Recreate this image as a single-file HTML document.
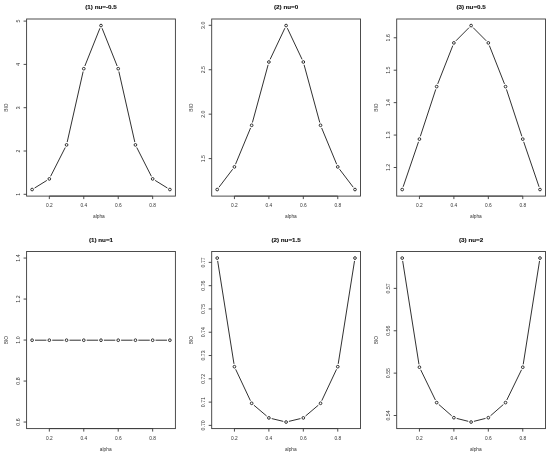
<!DOCTYPE html><html><head><meta charset="utf-8"><style>html,body{margin:0;padding:0;background:#fff;}svg{display:block;}text{font-family:"Liberation Sans",Arial,sans-serif;}</style></head><body>
<svg width="550" height="456" viewBox="0 0 550 456">
<rect x="0" y="0" width="550" height="456" fill="#fff"/>
<g><rect x="26.60" y="19.00" width="148.80" height="177.10" fill="none" stroke="#3a3a3a" stroke-width="0.9"/><line x1="49.33" y1="196.10" x2="152.67" y2="196.10" stroke="#3a3a3a" stroke-width="0.9"/><line x1="49.33" y1="196.10" x2="49.33" y2="199.10" stroke="#3a3a3a" stroke-width="0.9"/><text x="49.33" y="206.70" font-size="4.8" text-anchor="middle" fill="#333">0.2</text><line x1="83.78" y1="196.10" x2="83.78" y2="199.10" stroke="#3a3a3a" stroke-width="0.9"/><text x="83.78" y="206.70" font-size="4.8" text-anchor="middle" fill="#333">0.4</text><line x1="118.22" y1="196.10" x2="118.22" y2="199.10" stroke="#3a3a3a" stroke-width="0.9"/><text x="118.22" y="206.70" font-size="4.8" text-anchor="middle" fill="#333">0.6</text><line x1="152.67" y1="196.10" x2="152.67" y2="199.10" stroke="#3a3a3a" stroke-width="0.9"/><text x="152.67" y="206.70" font-size="4.8" text-anchor="middle" fill="#333">0.8</text><line x1="23.60" y1="194.30" x2="26.60" y2="194.30" stroke="#3a3a3a" stroke-width="0.9"/><text transform="translate(19.70,194.30) rotate(-90) scale(1.08,1)" font-size="4.8" text-anchor="middle" fill="#333">1</text><line x1="23.60" y1="151.00" x2="26.60" y2="151.00" stroke="#3a3a3a" stroke-width="0.9"/><text transform="translate(19.70,151.00) rotate(-90) scale(1.08,1)" font-size="4.8" text-anchor="middle" fill="#333">2</text><line x1="23.60" y1="107.70" x2="26.60" y2="107.70" stroke="#3a3a3a" stroke-width="0.9"/><text transform="translate(19.70,107.70) rotate(-90) scale(1.08,1)" font-size="4.8" text-anchor="middle" fill="#333">3</text><line x1="23.60" y1="64.40" x2="26.60" y2="64.40" stroke="#3a3a3a" stroke-width="0.9"/><text transform="translate(19.70,64.40) rotate(-90) scale(1.08,1)" font-size="4.8" text-anchor="middle" fill="#333">4</text><line x1="23.60" y1="21.10" x2="26.60" y2="21.10" stroke="#3a3a3a" stroke-width="0.9"/><text transform="translate(19.70,21.10) rotate(-90) scale(1.08,1)" font-size="4.8" text-anchor="middle" fill="#333">5</text><text x="98.90" y="218.20" font-size="4.8" text-anchor="middle" fill="#333">alpha</text><text transform="translate(7.90,107.55) rotate(-90)" font-size="4.8" text-anchor="middle" fill="#333">BIO</text><text transform="translate(101.00,9.30) scale(1.1,1)" font-size="5.7" font-weight="bold" text-anchor="middle" fill="#111" stroke="#111" stroke-width="0.12">(1) nu=-0.5</text><path d="M34.58 188.02L46.87 180.42M50.64 176.31L65.25 147.49M67.19 142.07L83.14 71.53M84.85 66.01L99.92 28.25M102.08 28.25L117.15 66.01M118.86 71.53L134.81 142.07M136.75 147.49L151.36 176.31M155.13 180.42L167.42 188.02" fill="none" stroke="#262626" stroke-width="0.95"/><circle cx="32.11" cy="189.54" r="1.35" fill="none" stroke="#1a1a1a" stroke-width="0.9"/><circle cx="49.33" cy="178.90" r="1.35" fill="none" stroke="#1a1a1a" stroke-width="0.9"/><circle cx="66.56" cy="144.90" r="1.35" fill="none" stroke="#1a1a1a" stroke-width="0.9"/><circle cx="83.78" cy="68.70" r="1.35" fill="none" stroke="#1a1a1a" stroke-width="0.9"/><circle cx="101.00" cy="25.56" r="1.35" fill="none" stroke="#1a1a1a" stroke-width="0.9"/><circle cx="118.22" cy="68.70" r="1.35" fill="none" stroke="#1a1a1a" stroke-width="0.9"/><circle cx="135.44" cy="144.90" r="1.35" fill="none" stroke="#1a1a1a" stroke-width="0.9"/><circle cx="152.67" cy="178.90" r="1.35" fill="none" stroke="#1a1a1a" stroke-width="0.9"/><circle cx="169.89" cy="189.54" r="1.35" fill="none" stroke="#1a1a1a" stroke-width="0.9"/></g>
<g><rect x="211.70" y="19.00" width="148.80" height="177.10" fill="none" stroke="#3a3a3a" stroke-width="0.9"/><line x1="234.43" y1="196.10" x2="337.77" y2="196.10" stroke="#3a3a3a" stroke-width="0.9"/><line x1="234.43" y1="196.10" x2="234.43" y2="199.10" stroke="#3a3a3a" stroke-width="0.9"/><text x="234.43" y="206.70" font-size="4.8" text-anchor="middle" fill="#333">0.2</text><line x1="268.88" y1="196.10" x2="268.88" y2="199.10" stroke="#3a3a3a" stroke-width="0.9"/><text x="268.88" y="206.70" font-size="4.8" text-anchor="middle" fill="#333">0.4</text><line x1="303.32" y1="196.10" x2="303.32" y2="199.10" stroke="#3a3a3a" stroke-width="0.9"/><text x="303.32" y="206.70" font-size="4.8" text-anchor="middle" fill="#333">0.6</text><line x1="337.77" y1="196.10" x2="337.77" y2="199.10" stroke="#3a3a3a" stroke-width="0.9"/><text x="337.77" y="206.70" font-size="4.8" text-anchor="middle" fill="#333">0.8</text><line x1="208.70" y1="158.60" x2="211.70" y2="158.60" stroke="#3a3a3a" stroke-width="0.9"/><text transform="translate(204.80,158.60) rotate(-90) scale(1.08,1)" font-size="4.8" text-anchor="middle" fill="#333">1.5</text><line x1="208.70" y1="114.17" x2="211.70" y2="114.17" stroke="#3a3a3a" stroke-width="0.9"/><text transform="translate(204.80,114.17) rotate(-90) scale(1.08,1)" font-size="4.8" text-anchor="middle" fill="#333">2.0</text><line x1="208.70" y1="69.74" x2="211.70" y2="69.74" stroke="#3a3a3a" stroke-width="0.9"/><text transform="translate(204.80,69.74) rotate(-90) scale(1.08,1)" font-size="4.8" text-anchor="middle" fill="#333">2.5</text><line x1="208.70" y1="25.31" x2="211.70" y2="25.31" stroke="#3a3a3a" stroke-width="0.9"/><text transform="translate(204.80,25.31) rotate(-90) scale(1.08,1)" font-size="4.8" text-anchor="middle" fill="#333">3.0</text><text x="290.90" y="218.20" font-size="4.8" text-anchor="middle" fill="#333">alpha</text><text transform="translate(193.00,107.55) rotate(-90)" font-size="4.8" text-anchor="middle" fill="#333">BIO</text><text transform="translate(286.10,9.30) scale(1.1,1)" font-size="5.7" font-weight="bold" text-anchor="middle" fill="#111" stroke="#111" stroke-width="0.12">(2) nu=0</text><path d="M218.97 187.23L232.68 169.21M235.54 164.22L250.55 127.98M252.42 122.50L268.12 64.80M270.12 59.38L284.86 28.18M287.34 28.18L302.08 59.38M304.08 64.80L319.78 122.50M321.65 127.98L336.66 164.22M339.52 169.21L353.23 187.23" fill="none" stroke="#262626" stroke-width="0.95"/><circle cx="217.21" cy="189.54" r="1.35" fill="none" stroke="#1a1a1a" stroke-width="0.9"/><circle cx="234.43" cy="166.90" r="1.35" fill="none" stroke="#1a1a1a" stroke-width="0.9"/><circle cx="251.66" cy="125.30" r="1.35" fill="none" stroke="#1a1a1a" stroke-width="0.9"/><circle cx="268.88" cy="62.00" r="1.35" fill="none" stroke="#1a1a1a" stroke-width="0.9"/><circle cx="286.10" cy="25.56" r="1.35" fill="none" stroke="#1a1a1a" stroke-width="0.9"/><circle cx="303.32" cy="62.00" r="1.35" fill="none" stroke="#1a1a1a" stroke-width="0.9"/><circle cx="320.54" cy="125.30" r="1.35" fill="none" stroke="#1a1a1a" stroke-width="0.9"/><circle cx="337.77" cy="166.90" r="1.35" fill="none" stroke="#1a1a1a" stroke-width="0.9"/><circle cx="354.99" cy="189.54" r="1.35" fill="none" stroke="#1a1a1a" stroke-width="0.9"/></g>
<g><rect x="396.70" y="19.00" width="148.80" height="177.10" fill="none" stroke="#3a3a3a" stroke-width="0.9"/><line x1="419.43" y1="196.10" x2="522.77" y2="196.10" stroke="#3a3a3a" stroke-width="0.9"/><line x1="419.43" y1="196.10" x2="419.43" y2="199.10" stroke="#3a3a3a" stroke-width="0.9"/><text x="419.43" y="206.70" font-size="4.8" text-anchor="middle" fill="#333">0.2</text><line x1="453.88" y1="196.10" x2="453.88" y2="199.10" stroke="#3a3a3a" stroke-width="0.9"/><text x="453.88" y="206.70" font-size="4.8" text-anchor="middle" fill="#333">0.4</text><line x1="488.32" y1="196.10" x2="488.32" y2="199.10" stroke="#3a3a3a" stroke-width="0.9"/><text x="488.32" y="206.70" font-size="4.8" text-anchor="middle" fill="#333">0.6</text><line x1="522.77" y1="196.10" x2="522.77" y2="199.10" stroke="#3a3a3a" stroke-width="0.9"/><text x="522.77" y="206.70" font-size="4.8" text-anchor="middle" fill="#333">0.8</text><line x1="393.70" y1="167.50" x2="396.70" y2="167.50" stroke="#3a3a3a" stroke-width="0.9"/><text transform="translate(389.80,167.50) rotate(-90) scale(1.08,1)" font-size="4.8" text-anchor="middle" fill="#333">1.2</text><line x1="393.70" y1="135.07" x2="396.70" y2="135.07" stroke="#3a3a3a" stroke-width="0.9"/><text transform="translate(389.80,135.07) rotate(-90) scale(1.08,1)" font-size="4.8" text-anchor="middle" fill="#333">1.3</text><line x1="393.70" y1="102.64" x2="396.70" y2="102.64" stroke="#3a3a3a" stroke-width="0.9"/><text transform="translate(389.80,102.64) rotate(-90) scale(1.08,1)" font-size="4.8" text-anchor="middle" fill="#333">1.4</text><line x1="393.70" y1="70.21" x2="396.70" y2="70.21" stroke="#3a3a3a" stroke-width="0.9"/><text transform="translate(389.80,70.21) rotate(-90) scale(1.08,1)" font-size="4.8" text-anchor="middle" fill="#333">1.5</text><line x1="393.70" y1="37.78" x2="396.70" y2="37.78" stroke="#3a3a3a" stroke-width="0.9"/><text transform="translate(389.80,37.78) rotate(-90) scale(1.08,1)" font-size="4.8" text-anchor="middle" fill="#333">1.6</text><text x="475.90" y="218.20" font-size="4.8" text-anchor="middle" fill="#333">alpha</text><text transform="translate(378.00,107.55) rotate(-90)" font-size="4.8" text-anchor="middle" fill="#333">BIO</text><text transform="translate(471.10,9.30) scale(1.1,1)" font-size="5.7" font-weight="bold" text-anchor="middle" fill="#111" stroke="#111" stroke-width="0.12">(3) nu=0.5</text><path d="M403.15 186.80L418.50 141.84M420.34 136.34L435.75 89.36M437.72 83.90L452.81 45.60M455.92 40.84L469.06 27.62M473.14 27.62L486.28 40.84M489.39 45.60L504.48 83.90M506.45 89.36L521.86 136.34M523.70 141.84L539.05 186.80" fill="none" stroke="#262626" stroke-width="0.95"/><circle cx="402.21" cy="189.54" r="1.35" fill="none" stroke="#1a1a1a" stroke-width="0.9"/><circle cx="419.43" cy="139.10" r="1.35" fill="none" stroke="#1a1a1a" stroke-width="0.9"/><circle cx="436.66" cy="86.60" r="1.35" fill="none" stroke="#1a1a1a" stroke-width="0.9"/><circle cx="453.88" cy="42.90" r="1.35" fill="none" stroke="#1a1a1a" stroke-width="0.9"/><circle cx="471.10" cy="25.56" r="1.35" fill="none" stroke="#1a1a1a" stroke-width="0.9"/><circle cx="488.32" cy="42.90" r="1.35" fill="none" stroke="#1a1a1a" stroke-width="0.9"/><circle cx="505.54" cy="86.60" r="1.35" fill="none" stroke="#1a1a1a" stroke-width="0.9"/><circle cx="522.77" cy="139.10" r="1.35" fill="none" stroke="#1a1a1a" stroke-width="0.9"/><circle cx="539.99" cy="189.54" r="1.35" fill="none" stroke="#1a1a1a" stroke-width="0.9"/></g>
<g><rect x="26.60" y="251.50" width="148.80" height="177.10" fill="none" stroke="#3a3a3a" stroke-width="0.9"/><line x1="49.33" y1="428.60" x2="152.67" y2="428.60" stroke="#3a3a3a" stroke-width="0.9"/><line x1="49.33" y1="428.60" x2="49.33" y2="431.60" stroke="#3a3a3a" stroke-width="0.9"/><text x="49.33" y="439.60" font-size="4.8" text-anchor="middle" fill="#333">0.2</text><line x1="83.78" y1="428.60" x2="83.78" y2="431.60" stroke="#3a3a3a" stroke-width="0.9"/><text x="83.78" y="439.60" font-size="4.8" text-anchor="middle" fill="#333">0.4</text><line x1="118.22" y1="428.60" x2="118.22" y2="431.60" stroke="#3a3a3a" stroke-width="0.9"/><text x="118.22" y="439.60" font-size="4.8" text-anchor="middle" fill="#333">0.6</text><line x1="152.67" y1="428.60" x2="152.67" y2="431.60" stroke="#3a3a3a" stroke-width="0.9"/><text x="152.67" y="439.60" font-size="4.8" text-anchor="middle" fill="#333">0.8</text><line x1="23.60" y1="422.04" x2="26.60" y2="422.04" stroke="#3a3a3a" stroke-width="0.9"/><text transform="translate(19.70,422.04) rotate(-90) scale(1.08,1)" font-size="4.8" text-anchor="middle" fill="#333">0.6</text><line x1="23.60" y1="381.05" x2="26.60" y2="381.05" stroke="#3a3a3a" stroke-width="0.9"/><text transform="translate(19.70,381.05) rotate(-90) scale(1.08,1)" font-size="4.8" text-anchor="middle" fill="#333">0.8</text><line x1="23.60" y1="340.05" x2="26.60" y2="340.05" stroke="#3a3a3a" stroke-width="0.9"/><text transform="translate(19.70,340.05) rotate(-90) scale(1.08,1)" font-size="4.8" text-anchor="middle" fill="#333">1.0</text><line x1="23.60" y1="299.05" x2="26.60" y2="299.05" stroke="#3a3a3a" stroke-width="0.9"/><text transform="translate(19.70,299.05) rotate(-90) scale(1.08,1)" font-size="4.8" text-anchor="middle" fill="#333">1.2</text><line x1="23.60" y1="258.06" x2="26.60" y2="258.06" stroke="#3a3a3a" stroke-width="0.9"/><text transform="translate(19.70,258.06) rotate(-90) scale(1.08,1)" font-size="4.8" text-anchor="middle" fill="#333">1.4</text><text x="105.70" y="450.70" font-size="4.8" text-anchor="middle" fill="#333">alpha</text><text transform="translate(7.90,340.05) rotate(-90)" font-size="4.8" text-anchor="middle" fill="#333">BIO</text><text transform="translate(101.00,241.80) scale(1.1,1)" font-size="5.7" font-weight="bold" text-anchor="middle" fill="#111" stroke="#111" stroke-width="0.12">(1) nu=1</text><path d="M35.01 340.20L46.43 340.20M52.23 340.20L63.66 340.20M69.46 340.20L80.88 340.20M86.68 340.20L98.10 340.20M103.90 340.20L115.32 340.20M121.12 340.20L132.54 340.20M138.34 340.20L149.77 340.20M155.57 340.20L166.99 340.20" fill="none" stroke="#262626" stroke-width="0.95"/><circle cx="32.11" cy="340.20" r="1.35" fill="none" stroke="#1a1a1a" stroke-width="0.9"/><circle cx="49.33" cy="340.20" r="1.35" fill="none" stroke="#1a1a1a" stroke-width="0.9"/><circle cx="66.56" cy="340.20" r="1.35" fill="none" stroke="#1a1a1a" stroke-width="0.9"/><circle cx="83.78" cy="340.20" r="1.35" fill="none" stroke="#1a1a1a" stroke-width="0.9"/><circle cx="101.00" cy="340.20" r="1.35" fill="none" stroke="#1a1a1a" stroke-width="0.9"/><circle cx="118.22" cy="340.20" r="1.35" fill="none" stroke="#1a1a1a" stroke-width="0.9"/><circle cx="135.44" cy="340.20" r="1.35" fill="none" stroke="#1a1a1a" stroke-width="0.9"/><circle cx="152.67" cy="340.20" r="1.35" fill="none" stroke="#1a1a1a" stroke-width="0.9"/><circle cx="169.89" cy="340.20" r="1.35" fill="none" stroke="#1a1a1a" stroke-width="0.9"/></g>
<g><rect x="211.70" y="251.50" width="148.80" height="177.10" fill="none" stroke="#3a3a3a" stroke-width="0.9"/><line x1="234.43" y1="428.60" x2="337.77" y2="428.60" stroke="#3a3a3a" stroke-width="0.9"/><line x1="234.43" y1="428.60" x2="234.43" y2="431.60" stroke="#3a3a3a" stroke-width="0.9"/><text x="234.43" y="439.60" font-size="4.8" text-anchor="middle" fill="#333">0.2</text><line x1="268.88" y1="428.60" x2="268.88" y2="431.60" stroke="#3a3a3a" stroke-width="0.9"/><text x="268.88" y="439.60" font-size="4.8" text-anchor="middle" fill="#333">0.4</text><line x1="303.32" y1="428.60" x2="303.32" y2="431.60" stroke="#3a3a3a" stroke-width="0.9"/><text x="303.32" y="439.60" font-size="4.8" text-anchor="middle" fill="#333">0.6</text><line x1="337.77" y1="428.60" x2="337.77" y2="431.60" stroke="#3a3a3a" stroke-width="0.9"/><text x="337.77" y="439.60" font-size="4.8" text-anchor="middle" fill="#333">0.8</text><line x1="208.70" y1="425.40" x2="211.70" y2="425.40" stroke="#3a3a3a" stroke-width="0.9"/><text transform="translate(204.80,425.40) rotate(-90) scale(1.08,1)" font-size="4.8" text-anchor="middle" fill="#333">0.70</text><line x1="208.70" y1="402.11" x2="211.70" y2="402.11" stroke="#3a3a3a" stroke-width="0.9"/><text transform="translate(204.80,402.11) rotate(-90) scale(1.08,1)" font-size="4.8" text-anchor="middle" fill="#333">0.71</text><line x1="208.70" y1="378.82" x2="211.70" y2="378.82" stroke="#3a3a3a" stroke-width="0.9"/><text transform="translate(204.80,378.82) rotate(-90) scale(1.08,1)" font-size="4.8" text-anchor="middle" fill="#333">0.72</text><line x1="208.70" y1="355.53" x2="211.70" y2="355.53" stroke="#3a3a3a" stroke-width="0.9"/><text transform="translate(204.80,355.53) rotate(-90) scale(1.08,1)" font-size="4.8" text-anchor="middle" fill="#333">0.73</text><line x1="208.70" y1="332.24" x2="211.70" y2="332.24" stroke="#3a3a3a" stroke-width="0.9"/><text transform="translate(204.80,332.24) rotate(-90) scale(1.08,1)" font-size="4.8" text-anchor="middle" fill="#333">0.74</text><line x1="208.70" y1="308.95" x2="211.70" y2="308.95" stroke="#3a3a3a" stroke-width="0.9"/><text transform="translate(204.80,308.95) rotate(-90) scale(1.08,1)" font-size="4.8" text-anchor="middle" fill="#333">0.75</text><line x1="208.70" y1="285.66" x2="211.70" y2="285.66" stroke="#3a3a3a" stroke-width="0.9"/><text transform="translate(204.80,285.66) rotate(-90) scale(1.08,1)" font-size="4.8" text-anchor="middle" fill="#333">0.76</text><line x1="208.70" y1="262.37" x2="211.70" y2="262.37" stroke="#3a3a3a" stroke-width="0.9"/><text transform="translate(204.80,262.37) rotate(-90) scale(1.08,1)" font-size="4.8" text-anchor="middle" fill="#333">0.77</text><text x="290.80" y="450.70" font-size="4.8" text-anchor="middle" fill="#333">alpha</text><text transform="translate(193.00,340.05) rotate(-90)" font-size="4.8" text-anchor="middle" fill="#333">BIO</text><text transform="translate(286.10,241.80) scale(1.1,1)" font-size="5.7" font-weight="bold" text-anchor="middle" fill="#111" stroke="#111" stroke-width="0.12">(2) nu=1.5</text><path d="M217.67 260.92L233.98 363.84M235.67 369.32L250.42 400.68M253.87 405.18L266.67 416.02M271.70 418.58L283.28 421.36M288.92 421.36L300.50 418.58M305.53 416.02L318.33 405.18M321.78 400.68L336.53 369.32M338.22 363.84L354.53 260.92" fill="none" stroke="#262626" stroke-width="0.95"/><circle cx="217.21" cy="258.06" r="1.35" fill="none" stroke="#1a1a1a" stroke-width="0.9"/><circle cx="234.43" cy="366.70" r="1.35" fill="none" stroke="#1a1a1a" stroke-width="0.9"/><circle cx="251.66" cy="403.30" r="1.35" fill="none" stroke="#1a1a1a" stroke-width="0.9"/><circle cx="268.88" cy="417.90" r="1.35" fill="none" stroke="#1a1a1a" stroke-width="0.9"/><circle cx="286.10" cy="422.04" r="1.35" fill="none" stroke="#1a1a1a" stroke-width="0.9"/><circle cx="303.32" cy="417.90" r="1.35" fill="none" stroke="#1a1a1a" stroke-width="0.9"/><circle cx="320.54" cy="403.30" r="1.35" fill="none" stroke="#1a1a1a" stroke-width="0.9"/><circle cx="337.77" cy="366.70" r="1.35" fill="none" stroke="#1a1a1a" stroke-width="0.9"/><circle cx="354.99" cy="258.06" r="1.35" fill="none" stroke="#1a1a1a" stroke-width="0.9"/></g>
<g><rect x="396.70" y="251.50" width="148.80" height="177.10" fill="none" stroke="#3a3a3a" stroke-width="0.9"/><line x1="419.43" y1="428.60" x2="522.77" y2="428.60" stroke="#3a3a3a" stroke-width="0.9"/><line x1="419.43" y1="428.60" x2="419.43" y2="431.60" stroke="#3a3a3a" stroke-width="0.9"/><text x="419.43" y="439.60" font-size="4.8" text-anchor="middle" fill="#333">0.2</text><line x1="453.88" y1="428.60" x2="453.88" y2="431.60" stroke="#3a3a3a" stroke-width="0.9"/><text x="453.88" y="439.60" font-size="4.8" text-anchor="middle" fill="#333">0.4</text><line x1="488.32" y1="428.60" x2="488.32" y2="431.60" stroke="#3a3a3a" stroke-width="0.9"/><text x="488.32" y="439.60" font-size="4.8" text-anchor="middle" fill="#333">0.6</text><line x1="522.77" y1="428.60" x2="522.77" y2="431.60" stroke="#3a3a3a" stroke-width="0.9"/><text x="522.77" y="439.60" font-size="4.8" text-anchor="middle" fill="#333">0.8</text><line x1="393.70" y1="415.50" x2="396.70" y2="415.50" stroke="#3a3a3a" stroke-width="0.9"/><text transform="translate(389.80,415.50) rotate(-90) scale(1.08,1)" font-size="4.8" text-anchor="middle" fill="#333">0.54</text><line x1="393.70" y1="373.13" x2="396.70" y2="373.13" stroke="#3a3a3a" stroke-width="0.9"/><text transform="translate(389.80,373.13) rotate(-90) scale(1.08,1)" font-size="4.8" text-anchor="middle" fill="#333">0.55</text><line x1="393.70" y1="330.76" x2="396.70" y2="330.76" stroke="#3a3a3a" stroke-width="0.9"/><text transform="translate(389.80,330.76) rotate(-90) scale(1.08,1)" font-size="4.8" text-anchor="middle" fill="#333">0.56</text><line x1="393.70" y1="288.39" x2="396.70" y2="288.39" stroke="#3a3a3a" stroke-width="0.9"/><text transform="translate(389.80,288.39) rotate(-90) scale(1.08,1)" font-size="4.8" text-anchor="middle" fill="#333">0.57</text><text x="475.80" y="450.70" font-size="4.8" text-anchor="middle" fill="#333">alpha</text><text transform="translate(378.00,340.05) rotate(-90)" font-size="4.8" text-anchor="middle" fill="#333">BIO</text><text transform="translate(471.10,241.80) scale(1.1,1)" font-size="5.7" font-weight="bold" text-anchor="middle" fill="#111" stroke="#111" stroke-width="0.12">(3) nu=2</text><path d="M402.66 260.92L418.98 364.34M420.70 369.81L435.39 399.99M438.84 404.51L451.70 415.79M456.69 418.41L468.29 421.33M473.91 421.33L485.51 418.41M490.50 415.79L503.36 404.51M506.81 399.99L521.50 369.81M523.22 364.34L539.54 260.92" fill="none" stroke="#262626" stroke-width="0.95"/><circle cx="402.21" cy="258.06" r="1.35" fill="none" stroke="#1a1a1a" stroke-width="0.9"/><circle cx="419.43" cy="367.20" r="1.35" fill="none" stroke="#1a1a1a" stroke-width="0.9"/><circle cx="436.66" cy="402.60" r="1.35" fill="none" stroke="#1a1a1a" stroke-width="0.9"/><circle cx="453.88" cy="417.70" r="1.35" fill="none" stroke="#1a1a1a" stroke-width="0.9"/><circle cx="471.10" cy="422.04" r="1.35" fill="none" stroke="#1a1a1a" stroke-width="0.9"/><circle cx="488.32" cy="417.70" r="1.35" fill="none" stroke="#1a1a1a" stroke-width="0.9"/><circle cx="505.54" cy="402.60" r="1.35" fill="none" stroke="#1a1a1a" stroke-width="0.9"/><circle cx="522.77" cy="367.20" r="1.35" fill="none" stroke="#1a1a1a" stroke-width="0.9"/><circle cx="539.99" cy="258.06" r="1.35" fill="none" stroke="#1a1a1a" stroke-width="0.9"/></g>
</svg></body></html>
